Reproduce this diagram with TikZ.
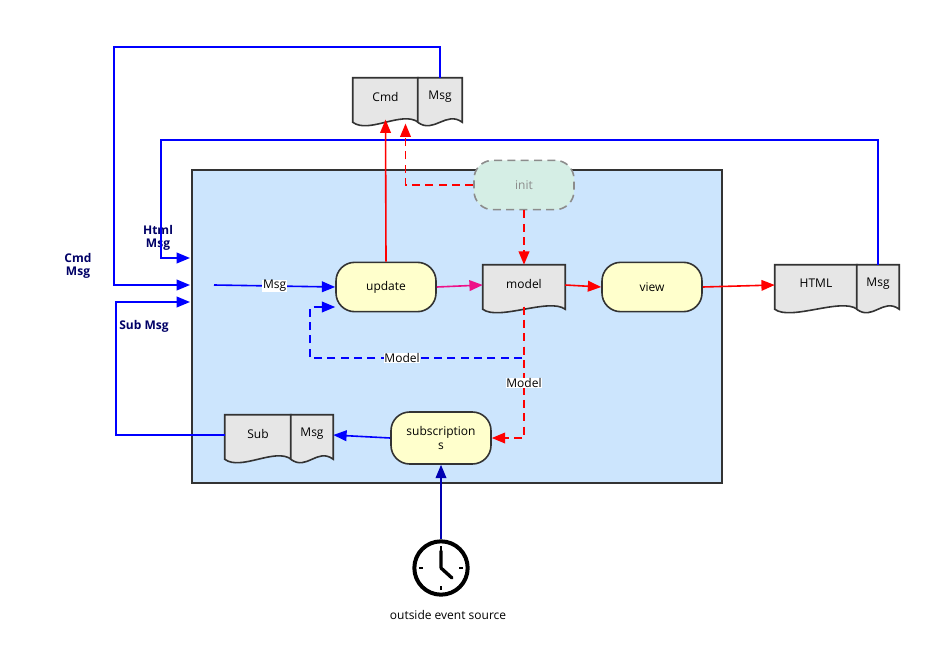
\documentclass[tikz,border=0pt]{standalone}
\usepackage{fontspec}
\setmainfont{Open Sans}
\usepackage{tikz}
\usetikzlibrary{positioning}
\usetikzlibrary{arrows.meta}
\definecolor{boxblue}{HTML}{CCE5FD}
\definecolor{docgray}{HTML}{E6E6E6}
\definecolor{procyel}{HTML}{FFFFCC}
\definecolor{initgreen}{HTML}{D5EEE5}
\definecolor{navy}{HTML}{000066}
\definecolor{linkpink}{HTML}{EE1188}
\newcommand{\docwave}[2]{%
  \draw [line width=1.2pt, draw=black!80, fill=docgray]
    (#1.north west) -- (#1.north east) -- ([yshift=-3pt]#1.south east)
    .. controls ([xshift=-12pt,yshift=6pt]#1.south east) and ([xshift=12pt,yshift=-12pt]#1.south west)
    .. ([yshift=-3pt]#1.south west) -- cycle;
  \node at ([yshift=1pt]#1.center) {#2};}
\begin{document}
\begin{tikzpicture}
  [ x=0.75pt, y=-0.75pt,
    font=\fontsize{9}{10}\selectfont,
    doc/.style={minimum width=#1, minimum height=30pt, inner sep=0pt},
    proc/.style={rounded corners=14pt, draw=black!80, line width=1.2pt, fill=procyel,
      minimum width=75pt, minimum height=37pt, align=center},
    blk/.style={draw=blue, line width=1.2pt, -{Triangle[length=10pt,width=8pt]}},
    rd/.style={draw=red, line width=1.2pt, -{Triangle[length=10pt,width=8pt]}},
    dsh/.style={dash pattern=on 6pt off 4pt},
    lbl/.style={fill=white, inner sep=0.5pt},
    side/.style={text=navy, font=\fontsize{9}{10}\selectfont\bfseries, align=center}
  ]
  \useasboundingbox (0,0) rectangle (931,667);
  \draw [fill=boxblue, draw=black!80, line width=1pt] (192,170) rectangle (722,483);

  % documents
  \node (Cmd)   at (385.5,98) [doc=48.75pt] {};
  \node (CMsg)  at (440,98)   [doc=33pt] {};
  \node (model) at (524,285)  [doc=61.5pt] {};
  \node (HTML)  at (816,285)  [doc=61.5pt] {};
  \node (HMsg)  at (878,285)  [doc=31.5pt] {};
  \node (Sub)   at (258,435)  [doc=49.5pt] {};
  \node (SMsg)  at (312,435)  [doc=31.5pt] {};
  \docwave{Cmd}{Cmd}
  \docwave{CMsg}{Msg}
  \docwave{model}{model}
  \docwave{HTML}{HTML}
  \docwave{HMsg}{Msg}
  \docwave{Sub}{Sub}
  \docwave{SMsg}{Msg}

  % processes
  \node (init)   at (524,185) [proc, fill=initgreen, draw=black!45, dsh, text=black!45] {init};
  \node (update) at (386,287) [proc] {update};
  \node (view)   at (652,287) [proc] {view};
  \node (subs)   at (441,438) [proc, minimum height=39pt] {subscription\\s};

  % clock
  \node (clock) at (441,568) [circle, draw=black, line width=3pt, minimum size=40pt] {};
  \draw [line width=2.5pt, line cap=round] (clock.center) -- ++(0,-17) (clock.center) -- ++(11,10);
  \foreach \a in {0,90,180,270}
    \draw [line width=2pt] (clock.center) ++(\a:22) -- ++(\a:-4);
  \node (src) at (448,615) {outside event source};

  % side labels
  \node (cmdlbl)  at (78,266)  [side] {Cmd\\Msg};
  \node (htmllbl) at (158,238) [side] {Html\\Msg};
  \node (sublbl)  at (144,326) [side] {Sub Msg};
  \coordinate (inCmd)  at (190,285);
  \coordinate (inHtml) at (190,258);
  \coordinate (inSub)  at (190,302);
  \coordinate (msgIn)  at (214,285);

  % blue feedback
  \draw [blk] (CMsg.north) |- (114,47) |- (inCmd);
  \draw [blk] (HMsg.north) |- (161,140) |- (inHtml);
  \draw [blk] (Sub.west) -| (116,302) -- (inSub);
  \draw [blk] (msgIn) -- node [lbl] {Msg} (update.west);
  \draw [blk] (subs.west) -- (SMsg.east);
  \draw [blk, draw=blue!70!black] (clock.north) -- (subs.south);
  \draw [blk, dsh] ([yshift=-1pt]model.south) |- node [lbl, pos=0.785] {Model} (310,358) |- ([yshift=-15pt]update.west);

  % red flow
  \draw [rd] (update.north) -- ([yshift=-1pt]Cmd.south);
  \draw [rd, dsh] (init.west) -| ([xshift=15pt,yshift=-4pt]Cmd.south);
  \draw [rd, dsh] (init.south) -- (model.north);
  \draw [rd, draw=linkpink] (update.east) -- (model.west);
  \draw [rd] (model.east) -- (view.west);
  \draw [rd] (view.east) -- (HTML.west);
  \draw [rd, dsh] ([yshift=-1pt]model.south) |- node [lbl, pos=0.29] {Model} (subs.east);
\end{tikzpicture}
\end{document}
